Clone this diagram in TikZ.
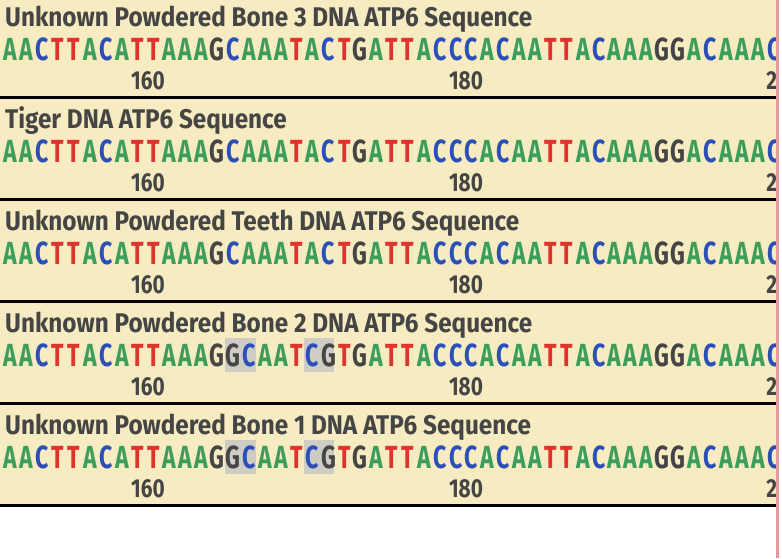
\documentclass[tikz,border=0pt]{standalone}
\usepackage{fontspec}
\setmainfont{Fira Sans}
\usepackage{graphicx}
\definecolor{bgy}{HTML}{F7EBC1}
\definecolor{nA}{HTML}{3D9E5C}
\definecolor{nC}{HTML}{2B4FB8}
\definecolor{nG}{HTML}{454545}
\definecolor{nT}{HTML}{E0332E}
\definecolor{txt}{HTML}{454545}
\definecolor{hl}{HTML}{CFCCC4}
\definecolor{pinkl}{HTML}{E39A9E}
\tikzset{
  hdr/.style={anchor=base west, inner sep=0pt, text=txt, font=\fontsize{27}{27}\selectfont\bfseries},
  num/.style={anchor=base, inner sep=0pt, text=txt, font=\fontsize{26}{26}\selectfont\bfseries},
  base/.style={anchor=base, inner sep=0pt, font=\fontsize{32}{32}\selectfont\bfseries},
  sep/.style={line width=3pt, black},
}
\newcommand{\seqA}{A,A,C,T,T,A,C,A,T,T,A,A,A,G,C,A,A,A,T,A,C,T,G,A,T,T,A,C,C,C,A,C,A,A,T,T,A,C,A,A,A,G,G,A,C,A,A,A,C}
\newcommand{\seqB}{A,A,C,T,T,A,C,A,T,T,A,A,A,G,G,C,A,A,T,C,G,T,G,A,T,T,A,C,C,C,A,C,A,A,T,T,A,C,A,A,A,G,G,A,C,A,A,A,C}
\begin{document}
\begin{tikzpicture}[x=1pt,y=-1pt]
\useasboundingbox (0,0) rectangle (782,558);
\fill[white] (0,0) rectangle (782,558);
\fill[bgy] (0,0) rectangle (776,505);
\begin{scope}
\clip (0,0) rectangle (776,558);
\foreach \k/\title/\mut in {0/Unknown Powdered Bone 3 DNA ATP6 Sequence/0,1/Tiger DNA ATP6 Sequence/0,2/Unknown Powdered Teeth DNA ATP6 Sequence/0,3/Unknown Powdered Bone 2 DNA ATP6 Sequence/1,4/Unknown Powdered Bone 1 DNA ATP6 Sequence/1}{
  \pgfmathsetmacro{\top}{102*\k-5}
  \node[hdr] (h\k) at (5,\top+31) {\scalebox{0.9}[1]{\title}};
  \ifnum\mut=1
    \fill[hl] (225,\top+37) rectangle (256,\top+71);
    \fill[hl] (304,\top+37) rectangle (334,\top+71);
    \foreach \b [count=\i from 0] in \seqB {
      \node[base, text=n\b] (s\k-\i) at ({10.5+15.9*\i},\top+65) {\scalebox{0.72}[1]{\b}};
    }
  \else
    \foreach \b [count=\i from 0] in \seqA {
      \node[base, text=n\b] (s\k-\i) at ({10.5+15.9*\i},\top+65) {\scalebox{0.72}[1]{\b}};
    }
  \fi
  \node[num] (n\k a) at (148,\top+94) {\scalebox{0.8}[1]{160}};
  \node[num] (n\k b) at (466,\top+94) {\scalebox{0.8}[1]{180}};
  \node[num] (n\k c) at (784,\top+94) {\scalebox{0.8}[1]{200}};
  \draw[sep] (0,\top+102) -- (776,\top+102);
}
\end{scope}
\draw[pinkl, line width=2.5pt] (777.5,0) -- (777.5,558);
\end{tikzpicture}
\end{document}
